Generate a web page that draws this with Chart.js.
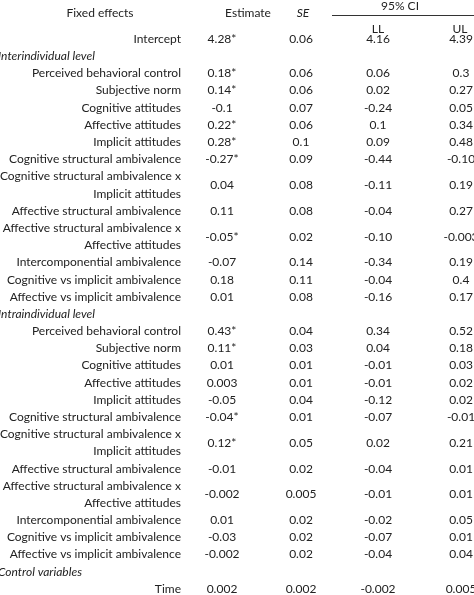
<!DOCTYPE html>
<html>
<head>
<meta charset="utf-8">
<script src="https://cdn.jsdelivr.net/npm/chart.js@4.4.1/dist/chart.umd.min.js"></script>
<style>
  html, body { margin: 0; padding: 0; background: #fff; }
  #wrap { width: 474px; height: 595px; }
</style>
</head>
<body>
<div id="wrap"><canvas id="tableChart"></canvas></div>
<script>
// rows: label (may be two lines), section headers have no values
const rowLabels = [
  ['Intercept'],
  ['Interindividual level'],
  ['Perceived behavioral control'],
  ['Subjective norm'],
  ['Cognitive attitudes'],
  ['Affective attitudes'],
  ['Implicit attitudes'],
  ['Cognitive structural ambivalence'],
  ['Cognitive structural ambivalence x', 'Implicit attitudes'],
  ['Affective structural ambivalence'],
  ['Affective structural ambivalence x', 'Affective attitudes'],
  ['Intercomponential ambivalence'],
  ['Cognitive vs implicit ambivalence'],
  ['Affective vs implicit ambivalence'],
  ['Intraindividual level'],
  ['Perceived behavioral control'],
  ['Subjective norm'],
  ['Cognitive attitudes'],
  ['Affective attitudes'],
  ['Implicit attitudes'],
  ['Cognitive structural ambivalence'],
  ['Cognitive structural ambivalence x', 'Implicit attitudes'],
  ['Affective structural ambivalence'],
  ['Affective structural ambivalence x', 'Affective attitudes'],
  ['Intercomponential ambivalence'],
  ['Cognitive vs implicit ambivalence'],
  ['Affective vs implicit ambivalence'],
  ['Control variables'],
  ['Time']
];
const isSection = [false, true, false, false, false, false, false, false, false, false, false, false, false, false,
  true, false, false, false, false, false, false, false, false, false, false, false, false, true, false];
const estimates = ['4.28*', '', '0.18*', '0.14*', '-0.1', '0.22*', '0.28*', '-0.27*', '0.04', '0.11', '-0.05*', '-0.07', '0.18', '0.01',
  '', '0.43*', '0.11*', '0.01', '0.003', '-0.05', '-0.04*', '0.12*', '-0.01', '-0.002', '0.01', '-0.03', '-0.002', '', '0.002'];
const seValues = ['0.06', '', '0.06', '0.06', '0.07', '0.06', '0.1', '0.09', '0.08', '0.08', '0.02', '0.14', '0.11', '0.08',
  '', '0.04', '0.03', '0.01', '0.01', '0.04', '0.01', '0.05', '0.02', '0.005', '0.02', '0.02', '0.02', '', '0.002'];
const llValues = ['4.16', '', '0.06', '0.02', '-0.24', '0.1', '0.09', '-0.44', '-0.11', '-0.04', '-0.10', '-0.34', '-0.04', '-0.16',
  '', '0.34', '0.04', '-0.01', '-0.01', '-0.12', '-0.07', '0.02', '-0.04', '-0.01', '-0.02', '-0.07', '-0.04', '', '-0.002'];
const ulValues = ['4.39', '', '0.3', '0.27', '0.05', '0.34', '0.48', '-0.10', '0.19', '0.27', '-0.003', '0.19', '0.4', '0.17',
  '', '0.52', '0.18', '0.03', '0.02', '0.02', '-0.01', '0.21', '0.01', '0.01', '0.05', '0.01', '0.04', '', '0.005'];
const headers = ['Fixed effects', 'Estimate', 'SE', '95% CI', 'LL', 'UL'];

// row units: two-line rows take two units
const rowStart = [];
let unit = 0;
rowLabels.forEach(r => { rowStart.push(unit); unit += r.length; });

const FONT = '12px Lato';
const FONT_IT = 'italic 12px Lato';
const tablePlugin = {
  id: 'tableText',
  afterDraw(chart) {
    const c = chart.ctx;
    const x = chart.scales.x, y = chart.scales.y;
    c.save();
    c.fillStyle = '#222';
    c.textBaseline = 'middle';
    c.font = FONT;
    // header
    c.textAlign = 'center';
    c.fillText(headers[0], x.getPixelForValue(100), y.getPixelForValue(-1.5));
    c.fillText(headers[1], x.getPixelForValue(248), y.getPixelForValue(-1.5));
    c.font = FONT_IT;
    c.fillText(headers[2], x.getPixelForValue(303), y.getPixelForValue(-1.5));
    c.font = FONT;
    c.fillText(headers[3], x.getPixelForValue(400), y.getPixelForValue(-1.9));
    c.fillText(headers[4], x.getPixelForValue(378), y.getPixelForValue(-0.6));
    c.fillText(headers[5], x.getPixelForValue(460), y.getPixelForValue(-0.6));
    c.strokeStyle = '#333';
    c.lineWidth = 1;
    c.beginPath();
    const ly = Math.round(y.getPixelForValue(-1.4)) + 0.5;
    c.moveTo(x.getPixelForValue(332), ly);
    c.lineTo(x.getPixelForValue(474), ly);
    c.stroke();

    rowLabels.forEach((lines, i) => {
      const mid = rowStart[i] + (lines.length - 1) / 2;
      if (isSection[i]) {
        c.font = FONT_IT;
        c.textAlign = 'left';
        c.fillText(lines[0], x.getPixelForValue(-2), y.getPixelForValue(rowStart[i]));
        return;
      }
      c.font = FONT;
      c.textAlign = 'right';
      lines.forEach((t, k) => c.fillText(t, x.getPixelForValue(181), y.getPixelForValue(rowStart[i] + k)));
      c.textAlign = 'center';
      const ym = y.getPixelForValue(mid);
      c.fillText(estimates[i], x.getPixelForValue(222), ym);
      c.fillText(seValues[i], x.getPixelForValue(301), ym);
      c.fillText(llValues[i], x.getPixelForValue(378), ym);
      c.fillText(ulValues[i], x.getPixelForValue(461), ym);
    });
    c.restore();
  }
};

new Chart(document.getElementById('tableChart'), {
  type: 'scatter',
  data: { datasets: [{ data: [] }] },
  options: {
    responsive: true,
    maintainAspectRatio: false,
    animation: false,
    layout: { padding: 0 },
    plugins: { legend: { display: false }, tooltip: { enabled: false } },
    scales: {
      // x in table width units, y in row units (row 0 = Intercept)
      x: { type: 'linear', min: 0, max: 474, display: false },
      y: { type: 'linear', min: -2.27, max: 32.35, reverse: true, display: false }
    }
  },
  plugins: [tablePlugin]
});
</script>
</body>
</html>
